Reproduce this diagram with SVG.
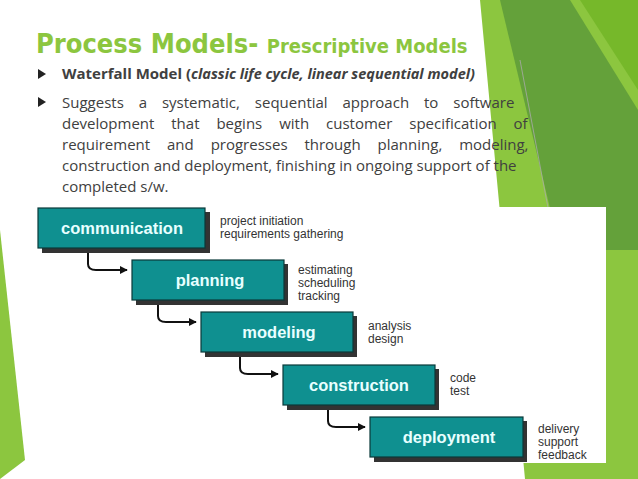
<svg xmlns="http://www.w3.org/2000/svg" width="638" height="479" viewBox="0 0 638 479">
<defs>
<style>
.box{fill:#0f9090;stroke:#0a3a3a;stroke-width:1.2}
.sh{fill:#333}
.bl{font-family:"Liberation Sans",Arial,sans-serif;font-weight:bold;font-size:16.5px;fill:#e8ffff;text-anchor:middle}
.nt{font-family:"Liberation Sans",Arial,sans-serif;font-size:12px;fill:#333}
.con{fill:none;stroke:#111;stroke-width:2}
.bt{font-family:"Open Sans","DejaVu Sans",sans-serif;font-size:15px;fill:#404040}
</style>
<marker id="ah" viewBox="0 0 10 10" refX="9" refY="5" markerWidth="4" markerHeight="4" orient="auto"><path d="M0,0L10,5L0,10z" fill="#111"/></marker>
</defs>
<rect width="638" height="479" fill="#fff"/>
<polygon points="480,0 638,0 638,479 525,479" fill="#8cc63f"/>
<polygon points="500,0 570,0 638,110 638,250 560,250" fill="#5d9a3a" opacity="0.85"/>
<polygon points="580,0 638,0 638,90" fill="#76b82a"/>
<polygon points="0,230 25,460 0,479" fill="#8cc63f"/>
<line x1="520" y1="60" x2="556" y2="250" stroke="#aaa" stroke-width="0.8"/>
<text x="36" y="53" font-family="DejaVu Sans Condensed,DejaVu Sans,sans-serif" fill="#8cc63f"><tspan font-size="27" font-weight="bold">Process Models- </tspan><tspan font-size="20" font-weight="bold">Prescriptive Models</tspan></text>
<polygon points="38,69 38,79 46,74" fill="#222"/>
<polygon points="38,97 38,107 46,102" fill="#222"/>
<text x="62" y="79" class="bt" font-size="12.5" font-weight="bold">Waterfall Model (<tspan font-style="italic" font-size="14.5">classic life cycle, linear sequential model)</tspan></text>
<text class="bt"><tspan x="62" y="108" word-spacing="11">Suggests a systematic, sequential approach to software</tspan><tspan x="62" y="129" word-spacing="13">development that begins with customer specification of</tspan><tspan x="62" y="150" word-spacing="13">requirement and progresses through planning, modeling,</tspan><tspan x="62" y="171">construction and deployment, finishing in ongoing support of the</tspan><tspan x="62" y="192">completed s/w.</tspan></text>
<rect x="30" y="207" width="576" height="256" fill="#fff"/>
<g id="connectors">
<path class="con" d="M88,252 V264 Q88,270 96,270 H127" marker-end="url(#ah)"/>
<path class="con" d="M158,304 V316 Q158,322 166,322 H196" marker-end="url(#ah)"/>
<path class="con" d="M240,356 V368 Q240,374 248,374 H278" marker-end="url(#ah)"/>
<path class="con" d="M328,409 V421 Q328,427 336,427 H365" marker-end="url(#ah)"/>
</g>
<g id="communication"><rect class="sh" x="42" y="212" width="168" height="41"/><rect class="box" x="38" y="208" width="167" height="40"/><text class="bl" x="122" y="234">communication</text>
<text class="nt"><tspan x="220" y="225">project initiation</tspan><tspan x="220" y="238">requirements gathering</tspan></text></g>
<g id="planning"><rect class="sh" x="136" y="264" width="152" height="41"/><rect class="box" x="132" y="260" width="152" height="40"/><text class="bl" x="210" y="286">planning</text>
<text class="nt"><tspan x="298" y="274">estimating</tspan><tspan x="298" y="287">scheduling</tspan><tspan x="298" y="300">tracking</tspan></text></g>
<g id="modeling"><rect class="sh" x="205" y="316" width="152" height="41"/><rect class="box" x="201" y="312" width="152" height="40"/><text class="bl" x="279" y="338">modeling</text>
<text class="nt"><tspan x="368" y="330">analysis</tspan><tspan x="368" y="343">design</tspan></text></g>
<g id="construction"><rect class="sh" x="287" y="369" width="152" height="41"/><rect class="box" x="283" y="365" width="152" height="40"/><text class="bl" x="359" y="391">construction</text>
<text class="nt"><tspan x="450" y="382">code</tspan><tspan x="450" y="395">test</tspan></text></g>
<g id="deployment"><rect class="sh" x="374" y="421" width="153" height="41"/><rect class="box" x="370" y="417" width="153" height="40"/><text class="bl" x="449" y="443">deployment</text>
<text class="nt"><tspan x="538" y="433">delivery</tspan><tspan x="538" y="446">support</tspan><tspan x="538" y="459">feedback</tspan></text></g>
</svg>
